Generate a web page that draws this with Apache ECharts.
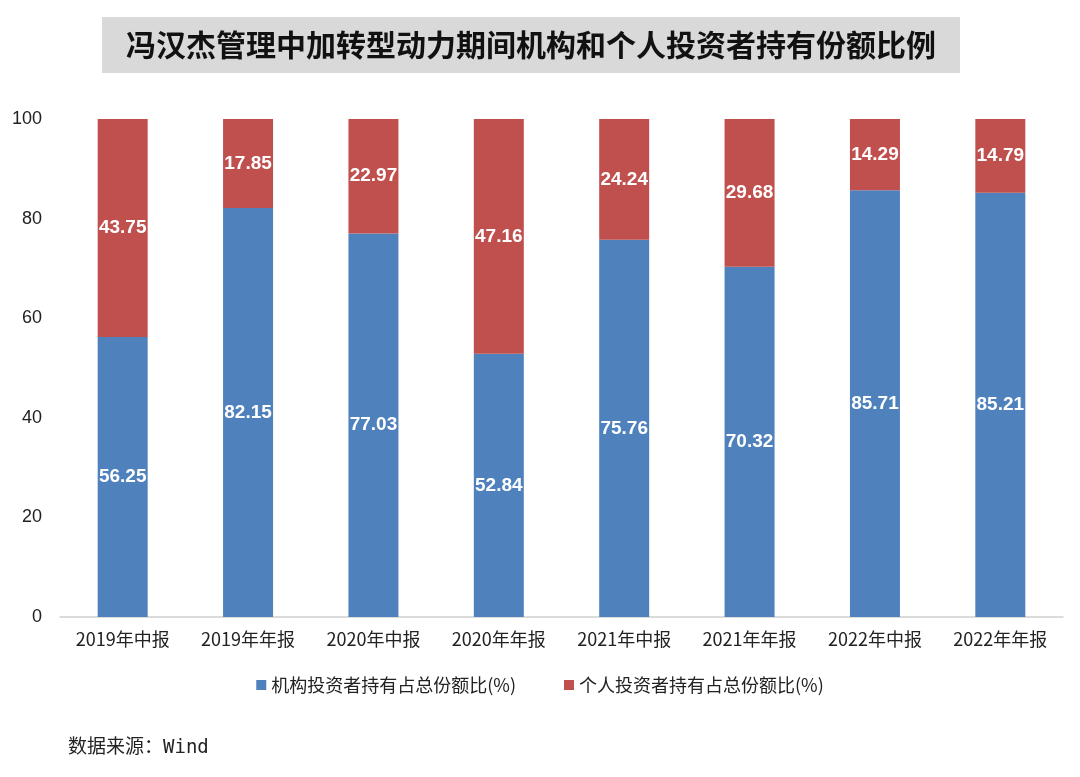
<!DOCTYPE html>
<html><head><meta charset="utf-8">
<script src="https://cdn.jsdelivr.net/npm/echarts@6/dist/echarts.min.js"></script>
<style>html,body{margin:0;padding:0;background:#fff}#c{width:1080px;height:777px}</style>
</head><body><div id="c"></div>
<script>
var categories = ['2019年中报','2019年年报','2020年中报','2020年年报','2021年中报','2021年年报','2022年中报','2022年年报'];
var institutional = [56.25, 82.15, 77.03, 52.84, 75.76, 70.32, 85.71, 85.21];
var individual = [43.75, 17.85, 22.97, 47.16, 24.24, 29.68, 14.29, 14.79];
var seriesNames = ['机构投资者持有占总份额比(%)', '个人投资者持有占总份额比(%)'];
var yTicks = [0, 20, 40, 60, 80, 100];

var chart = echarts.init(document.getElementById('c'));
var font = '"Noto Sans CJK SC", "Liberation Sans", sans-serif';
var lbl = {show: true, position: 'inside', color: '#fff', fontWeight: 'bold', fontSize: 19, fontFamily: '"Liberation Sans", Arial, sans-serif', formatter: function(p){return p.value.toFixed(2);}};
chart.setOption({
  backgroundColor: '#fff',
  graphic: [
    {type: 'rect', shape: {x: 102, y: 17, width: 858, height: 56}, style: {fill: '#d9d9d9'}},
    {type: 'text', x: 531, y: 45, style: {text: '冯汉杰管理中加转型动力期间机构和个人投资者持有份额比例', fill: '#111', font: 'bold 30px "Noto Sans CJK SC", sans-serif', align: 'center', verticalAlign: 'middle'}},
    {type: 'text', left: 68, top: 739, style: {text: '数据来源：Wind', fill: '#222', font: '19px "DejaVu Sans Mono", "Noto Sans CJK SC", monospace'}}
  ],
  legend: {
    bottom: 78, left: 'center', itemWidth: 10, itemHeight: 10, itemGap: 48, icon: 'rect',
    textStyle: {fontSize: 18, color: '#222', fontFamily: font},
    data: seriesNames
  },
  grid: {left: 60, right: 17, top: 119, bottom: 160},
  xAxis: {
    type: 'category', data: categories,
    axisLine: {lineStyle: {color: '#d0d0d0', width: 1.5}},
    axisTick: {show: false},
    axisLabel: {fontSize: 18, color: '#222', margin: 13, fontFamily: font}
  },
  yAxis: {
    type: 'value', min: 0, max: 100, interval: 20,
    splitLine: {show: false}, axisLine: {show: false}, axisTick: {show: false},
    axisLabel: {fontSize: 18, color: '#222', margin: 18, fontFamily: '"Liberation Sans", Arial, sans-serif'}
  },
  series: [
    {name: seriesNames[0], type: 'bar', stack: 's', data: institutional, barWidth: 50, itemStyle: {color: '#4f81bd'}, label: lbl},
    {name: seriesNames[1], type: 'bar', stack: 's', data: individual, barWidth: 50, itemStyle: {color: '#c0504d'}, label: lbl}
  ]
});
</script></body></html>
